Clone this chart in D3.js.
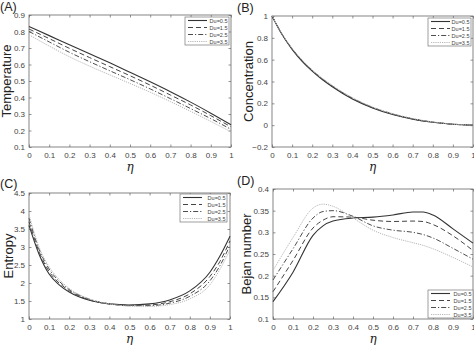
<!DOCTYPE html>
<html><head><meta charset="utf-8">
<script src="https://cdn.jsdelivr.net/npm/d3@7/dist/d3.min.js"></script>
<style>
html,body{margin:0;padding:0;background:#fff;}
svg{display:block;}
text{font-family:"Liberation Sans",Arial,sans-serif;}
</style></head>
<body>
<svg id="chart" width="474" height="345"></svg>
<script>
const duLabels = ["Du=0.5", "Du=1.5", "Du=2.5", "Du=3.5"];

// Panel A: Temperature
const etaA = [0, 0.1, 0.2, 0.3, 0.4, 0.5, 0.6, 0.7, 0.8, 0.9, 1];
const tempDu05 = [0.83, 0.775, 0.72, 0.665, 0.61, 0.553, 0.495, 0.435, 0.372, 0.305, 0.235];
const tempDu15 = [0.815, 0.757, 0.698, 0.642, 0.587, 0.532, 0.475, 0.415, 0.355, 0.29, 0.222];
const tempDu25 = [0.80, 0.737, 0.674, 0.617, 0.562, 0.508, 0.452, 0.393, 0.333, 0.272, 0.207];
const tempDu35 = [0.78, 0.712, 0.647, 0.59, 0.537, 0.485, 0.432, 0.375, 0.316, 0.255, 0.192];

// Panel B: Concentration
const etaB = [0, 0.05, 0.1, 0.15, 0.2, 0.25, 0.3, 0.4, 0.5, 0.6, 0.7, 0.8, 0.9, 1];
const concDu05 = [1, 0.83, 0.695, 0.585, 0.495, 0.418, 0.352, 0.24, 0.158, 0.098, 0.055, 0.026, 0.008, 0];
const concDu15 = [1, 0.832, 0.698, 0.589, 0.499, 0.422, 0.356, 0.244, 0.161, 0.101, 0.057, 0.027, 0.009, 0];
const concDu25 = [1, 0.834, 0.701, 0.593, 0.503, 0.426, 0.36, 0.248, 0.164, 0.103, 0.059, 0.028, 0.009, 0];
const concDu35 = [1, 0.836, 0.704, 0.597, 0.507, 0.43, 0.364, 0.252, 0.167, 0.106, 0.061, 0.03, 0.01, 0];

// Panel C: Entropy
const etaC = [0, 0.05, 0.1, 0.15, 0.2, 0.3, 0.4, 0.5, 0.6, 0.7, 0.8, 0.9, 0.95, 1];
const entDu05 = [3.6, 2.8, 2.25, 1.95, 1.75, 1.52, 1.42, 1.39, 1.42, 1.53, 1.78, 2.3, 2.75, 3.3];
const entDu15 = [3.7, 2.87, 2.32, 2.0, 1.79, 1.53, 1.42, 1.38, 1.39, 1.48, 1.7, 2.18, 2.6, 3.17];
const entDu25 = [3.8, 2.94, 2.39, 2.05, 1.82, 1.55, 1.42, 1.37, 1.37, 1.44, 1.63, 2.06, 2.48, 3.05];
const entDu35 = [3.9, 3.0, 2.45, 2.1, 1.85, 1.56, 1.42, 1.36, 1.35, 1.4, 1.56, 1.95, 2.38, 2.92];

// Panel D: Bejan number
const etaD = [0, 0.1, 0.2, 0.25, 0.3, 0.4, 0.5, 0.6, 0.7, 0.75, 0.8, 0.9, 1];
const bejDu05 = [0.14, 0.208, 0.293, 0.315, 0.326, 0.333, 0.335, 0.34, 0.347, 0.347, 0.34, 0.308, 0.275];
const bejDu15 = [0.163, 0.235, 0.31, 0.328, 0.336, 0.335, 0.328, 0.325, 0.326, 0.325, 0.318, 0.292, 0.258];
const bejDu25 = [0.19, 0.262, 0.333, 0.348, 0.35, 0.337, 0.315, 0.305, 0.3, 0.295, 0.287, 0.263, 0.238];
const bejDu35 = [0.212, 0.288, 0.356, 0.365, 0.36, 0.333, 0.305, 0.288, 0.276, 0.27, 0.262, 0.242, 0.22];

const xTicks = [0, 0.1, 0.2, 0.3, 0.4, 0.5, 0.6, 0.7, 0.8, 0.9, 1];
const yTicksA = [0.1, 0.2, 0.3, 0.4, 0.5, 0.6, 0.7, 0.8, 0.9];
const yTicksB = [-0.2, 0, 0.2, 0.4, 0.6, 0.8, 1];
const yTicksC = [1, 1.5, 2, 2.5, 3, 3.5, 4, 4.5];
const yTicksD = [0.1, 0.15, 0.2, 0.25, 0.3, 0.35, 0.4];

const styles = [
  {color: "#333", dash: null, w: 1.1},
  {color: "#444", dash: "5,3", w: 1.0},
  {color: "#4d4d4d", dash: "5,2,1.2,2", w: 1.0},
  {color: "#b8b8b8", dash: "1.2,1", w: 1.0}
];

const panels = [
  {tag: "(A)", tagX: 0, tagY: 11, box: [29, 231, 15, 147], yDom: [0.1, 0.9], yTicks: yTicksA,
   ylabel: "Temperature", ylabX: 11, etaY: 171, eta: etaA, series: [tempDu05, tempDu15, tempDu25, tempDu35],
   legend: [185, 17, 44, 28]},
  {tag: "(B)", tagX: 237, tagY: 12, box: [272, 473, 16, 147], yDom: [-0.2, 1], yTicks: yTicksB,
   ylabel: "Concentration", ylabX: 253, etaY: 171, eta: etaB, series: [concDu05, concDu15, concDu25, concDu35],
   legend: [428, 18, 43, 28]},
  {tag: "(C)", tagX: 0, tagY: 188, box: [29, 230, 193, 319], yDom: [1, 4.5], yTicks: yTicksC,
   ylabel: "Entropy", ylabX: 13, etaY: 343, eta: etaC, series: [entDu05, entDu15, entDu25, entDu35],
   legend: [180, 194, 47, 28]},
  {tag: "(D)", tagX: 237, tagY: 185, box: [273, 473, 189, 319], yDom: [0.1, 0.4], yTicks: yTicksD,
   ylabel: "Bejan number", ylabX: 251, etaY: 343, eta: etaD, series: [bejDu05, bejDu15, bejDu25, bejDu35],
   legend: [428, 290, 45, 28]}
];

const svg = d3.select("#chart");
const axisColor = "#666";
const textColor = "#444";

panels.forEach(p => {
  const [x0, x1, y0, y1] = p.box;
  const x = d3.scaleLinear().domain([0, 1]).range([x0, x1]);
  const y = d3.scaleLinear().domain(p.yDom).range([y1, y0]);
  const g = svg.append("g");

  g.append("rect").attr("x", x0).attr("y", y0).attr("width", x1 - x0).attr("height", y1 - y0)
    .attr("fill", "#fff").attr("stroke", axisColor).attr("stroke-width", 0.8);

  const fmt = d => d3.format("")(+d.toFixed(2));
  const bottom = g.append("g").attr("transform", `translate(0,${y1})`)
    .call(d3.axisBottom(x).tickValues(xTicks).tickSize(-2.5).tickPadding(5).tickFormat(fmt));
  const top = g.append("g").attr("transform", `translate(0,${y0})`)
    .call(d3.axisTop(x).tickValues(xTicks).tickSize(-2.5).tickFormat(""));
  const left = g.append("g").attr("transform", `translate(${x0},0)`)
    .call(d3.axisLeft(y).tickValues(p.yTicks).tickSize(-2.5).tickPadding(4).tickFormat(fmt));
  const right = g.append("g").attr("transform", `translate(${x1},0)`)
    .call(d3.axisRight(y).tickValues(p.yTicks).tickSize(-2.5).tickFormat(""));
  [bottom, top, left, right].forEach(a => {
    a.select(".domain").remove();
    a.selectAll(".tick line").attr("stroke", axisColor).attr("stroke-width", 0.7);
    a.selectAll(".tick text").attr("fill", textColor).style("font-size", "8px")
      .style("font-family", "'Liberation Sans', Arial, sans-serif");
  });

  const line = d3.line().x((d, i) => x(p.eta[i])).y(d => y(d)).curve(d3.curveMonotoneX);
  p.series.forEach((s, k) => {
    const st = styles[k];
    g.append("path").datum(s).attr("d", line).attr("fill", "none")
      .attr("stroke", st.color).attr("stroke-width", st.w)
      .attr("stroke-dasharray", st.dash);
  });

  const [lx, ly, lw, lh] = p.legend;
  g.append("rect").attr("x", lx).attr("y", ly).attr("width", lw).attr("height", lh)
    .attr("fill", "#fff").attr("stroke", "#777").attr("stroke-width", 0.7);
  duLabels.forEach((lab, k) => {
    const ry = ly + 3.5 + k * 7;
    const st = styles[k];
    g.append("line").attr("x1", lx + 3).attr("x2", lx + 22).attr("y1", ry).attr("y2", ry)
      .attr("stroke", st.color).attr("stroke-width", st.w).attr("stroke-dasharray", st.dash);
    g.append("text").attr("x", lx + lw - 1.5).attr("y", ry + 2).attr("text-anchor", "end")
      .attr("fill", textColor).style("font-size", "5.5px").text(lab);
  });

  svg.append("text").attr("x", p.tagX).attr("y", p.tagY).attr("fill", "#222")
    .style("font-size", "12.5px").text(p.tag);

  svg.append("text").attr("transform", `translate(${p.ylabX},${(y0 + y1) / 2}) rotate(-90)`)
    .attr("text-anchor", "middle").attr("fill", "#222").style("font-size", "13px").text(p.ylabel);

  svg.append("text").attr("x", (x0 + x1) / 2).attr("y", p.etaY).attr("text-anchor", "middle")
    .attr("fill", "#222").style("font-family", "'DejaVu Serif', serif").style("font-style", "italic")
    .style("font-size", "12px").text("η");
});
</script>
</body></html>
